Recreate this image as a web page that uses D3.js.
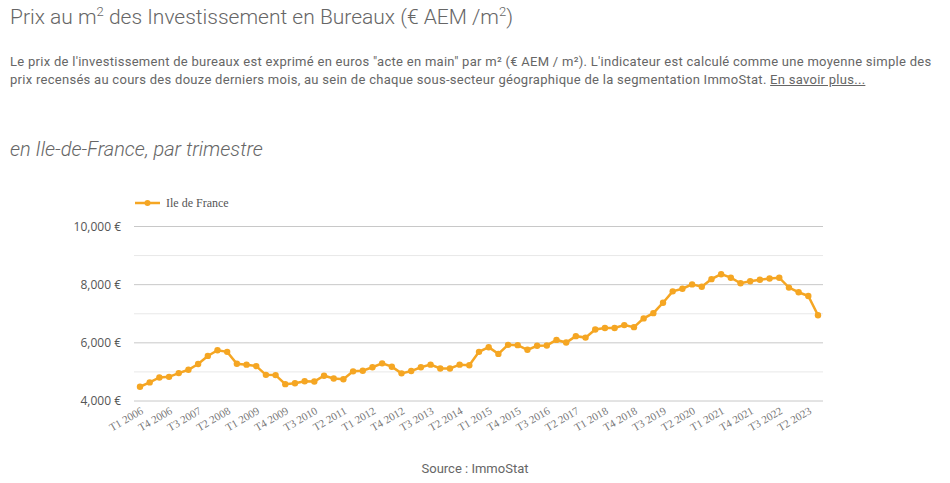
<!DOCTYPE html>
<html><head><meta charset="utf-8">
<script src="https://cdn.jsdelivr.net/npm/d3@7"></script>
<style>
body{margin:0;background:#fff;font-family:Roboto,"Open Sans",sans-serif;color:#666;}
#title{position:absolute;left:10px;top:4px;font-size:21px;font-weight:300;color:#666;}
#desc{position:absolute;left:10px;top:53px;width:925px;font-size:13px;letter-spacing:0.28px;line-height:18px;color:#666;}
#sub{position:absolute;left:10px;top:137px;font-size:20px;font-style:italic;font-weight:300;color:#666;}
#chart{position:absolute;left:0;top:0;}
#source{position:absolute;left:0;width:950px;top:461px;text-align:center;font-size:13px;color:#666;}
</style></head>
<body>
<div id="title">Prix au m<sup style="font-size:13px">2</sup> des Investissement en Bureaux (€ AEM /m<sup style="font-size:13px">2</sup>)</div>
<div id="desc">Le prix de l'investissement de bureaux est exprimé en euros "acte en main" par m² (€ AEM / m²). L'indicateur est calculé comme une moyenne simple des prix recensés au cours des douze derniers mois, au sein de chaque sous-secteur géographique de la segmentation ImmoStat. <u>En savoir plus...</u></div>
<div id="sub">en Ile-de-France, par trimestre</div>
<svg id="chart" width="950" height="483"></svg>
<div id="source">Source : ImmoStat</div>
<script>
const years = d3.range(2006, 2024);
const quarters = [];
years.forEach(y => ["T1","T2","T3","T4"].forEach(q => quarters.push(q + " " + y)));
const periods = quarters.slice(0, 71);
const values = [4490,4640,4810,4830,4960,5075,5270,5550,5745,5690,5280,5250,5200,4900,4890,4580,
  4610,4680,4670,4870,4775,4750,5020,5040,5160,5295,5180,4950,5030,5160,5250,5120,5120,5250,5230,5690,
  5850,5620,5930,5920,5760,5900,5910,6100,6010,6230,6180,6460,6510,6510,6610,6540,6840,7020,7380,7770,
  7860,8010,7930,8190,8360,8240,8050,8120,8170,8210,8240,7900,7740,7610,6950];
const yTicks = [4000,6000,8000,10000];
const yMinor = [5000,7000,9000];
const seriesName = "Ile de France";
const color = "#f5a623";

const svg = d3.select("#chart");
const x = d3.scalePoint().domain(periods).range([140, 818]);
const y = d3.scaleLinear().domain([4000, 10000]).range([401, 226.5]);
const left = 134, right = 823;

svg.selectAll(".minor").data(yMinor).enter().append("line")
  .attr("x1", left).attr("x2", right).attr("y1", y).attr("y2", y)
  .attr("stroke", "#e8e8e8");
svg.selectAll(".major").data(yTicks).enter().append("line")
  .attr("x1", left).attr("x2", right).attr("y1", y).attr("y2", y)
  .attr("stroke", "#c8c8c8");
svg.selectAll(".ylab").data(yTicks).enter().append("text")
  .attr("x", 121).attr("y", d => y(d) + 4).attr("text-anchor", "end")
  .style("font-family", "'Open Sans',sans-serif").style("font-size", "12px").attr("fill", "#555")
  .text(d => d3.format(",")(d) + " €");

svg.selectAll(".xlab").data(periods.filter((d, i) => i % 3 === 0)).enter().append("text")
  .attr("transform", d => `translate(${x(d) + 4},${413}) rotate(-30)`)
  .attr("text-anchor", "end")
  .style("font-family", "'Liberation Serif',serif").style("font-size", "11px").attr("fill", "#777")
  .text(d => d);

const line = d3.line().x((d, i) => x(periods[i])).y(d => y(d));
svg.append("path").datum(values).attr("d", line)
  .attr("fill", "none").attr("stroke", color).attr("stroke-width", 2.5);
svg.selectAll(".dot").data(values).enter().append("circle")
  .attr("cx", (d, i) => x(periods[i])).attr("cy", d => y(d)).attr("r", 3.2).attr("fill", color);

const lg = svg.append("g").attr("transform", "translate(135,203)");
lg.append("line").attr("x1", 0).attr("x2", 25).attr("stroke", color).attr("stroke-width", 2.5);
lg.append("circle").attr("cx", 12.5).attr("r", 3).attr("fill", color);
lg.append("text").attr("x", 31).attr("y", 4).style("font-family", "'Liberation Serif',serif")
  .style("font-size", "12px").attr("fill", "#555").text(seriesName);
</script>
</body></html>
